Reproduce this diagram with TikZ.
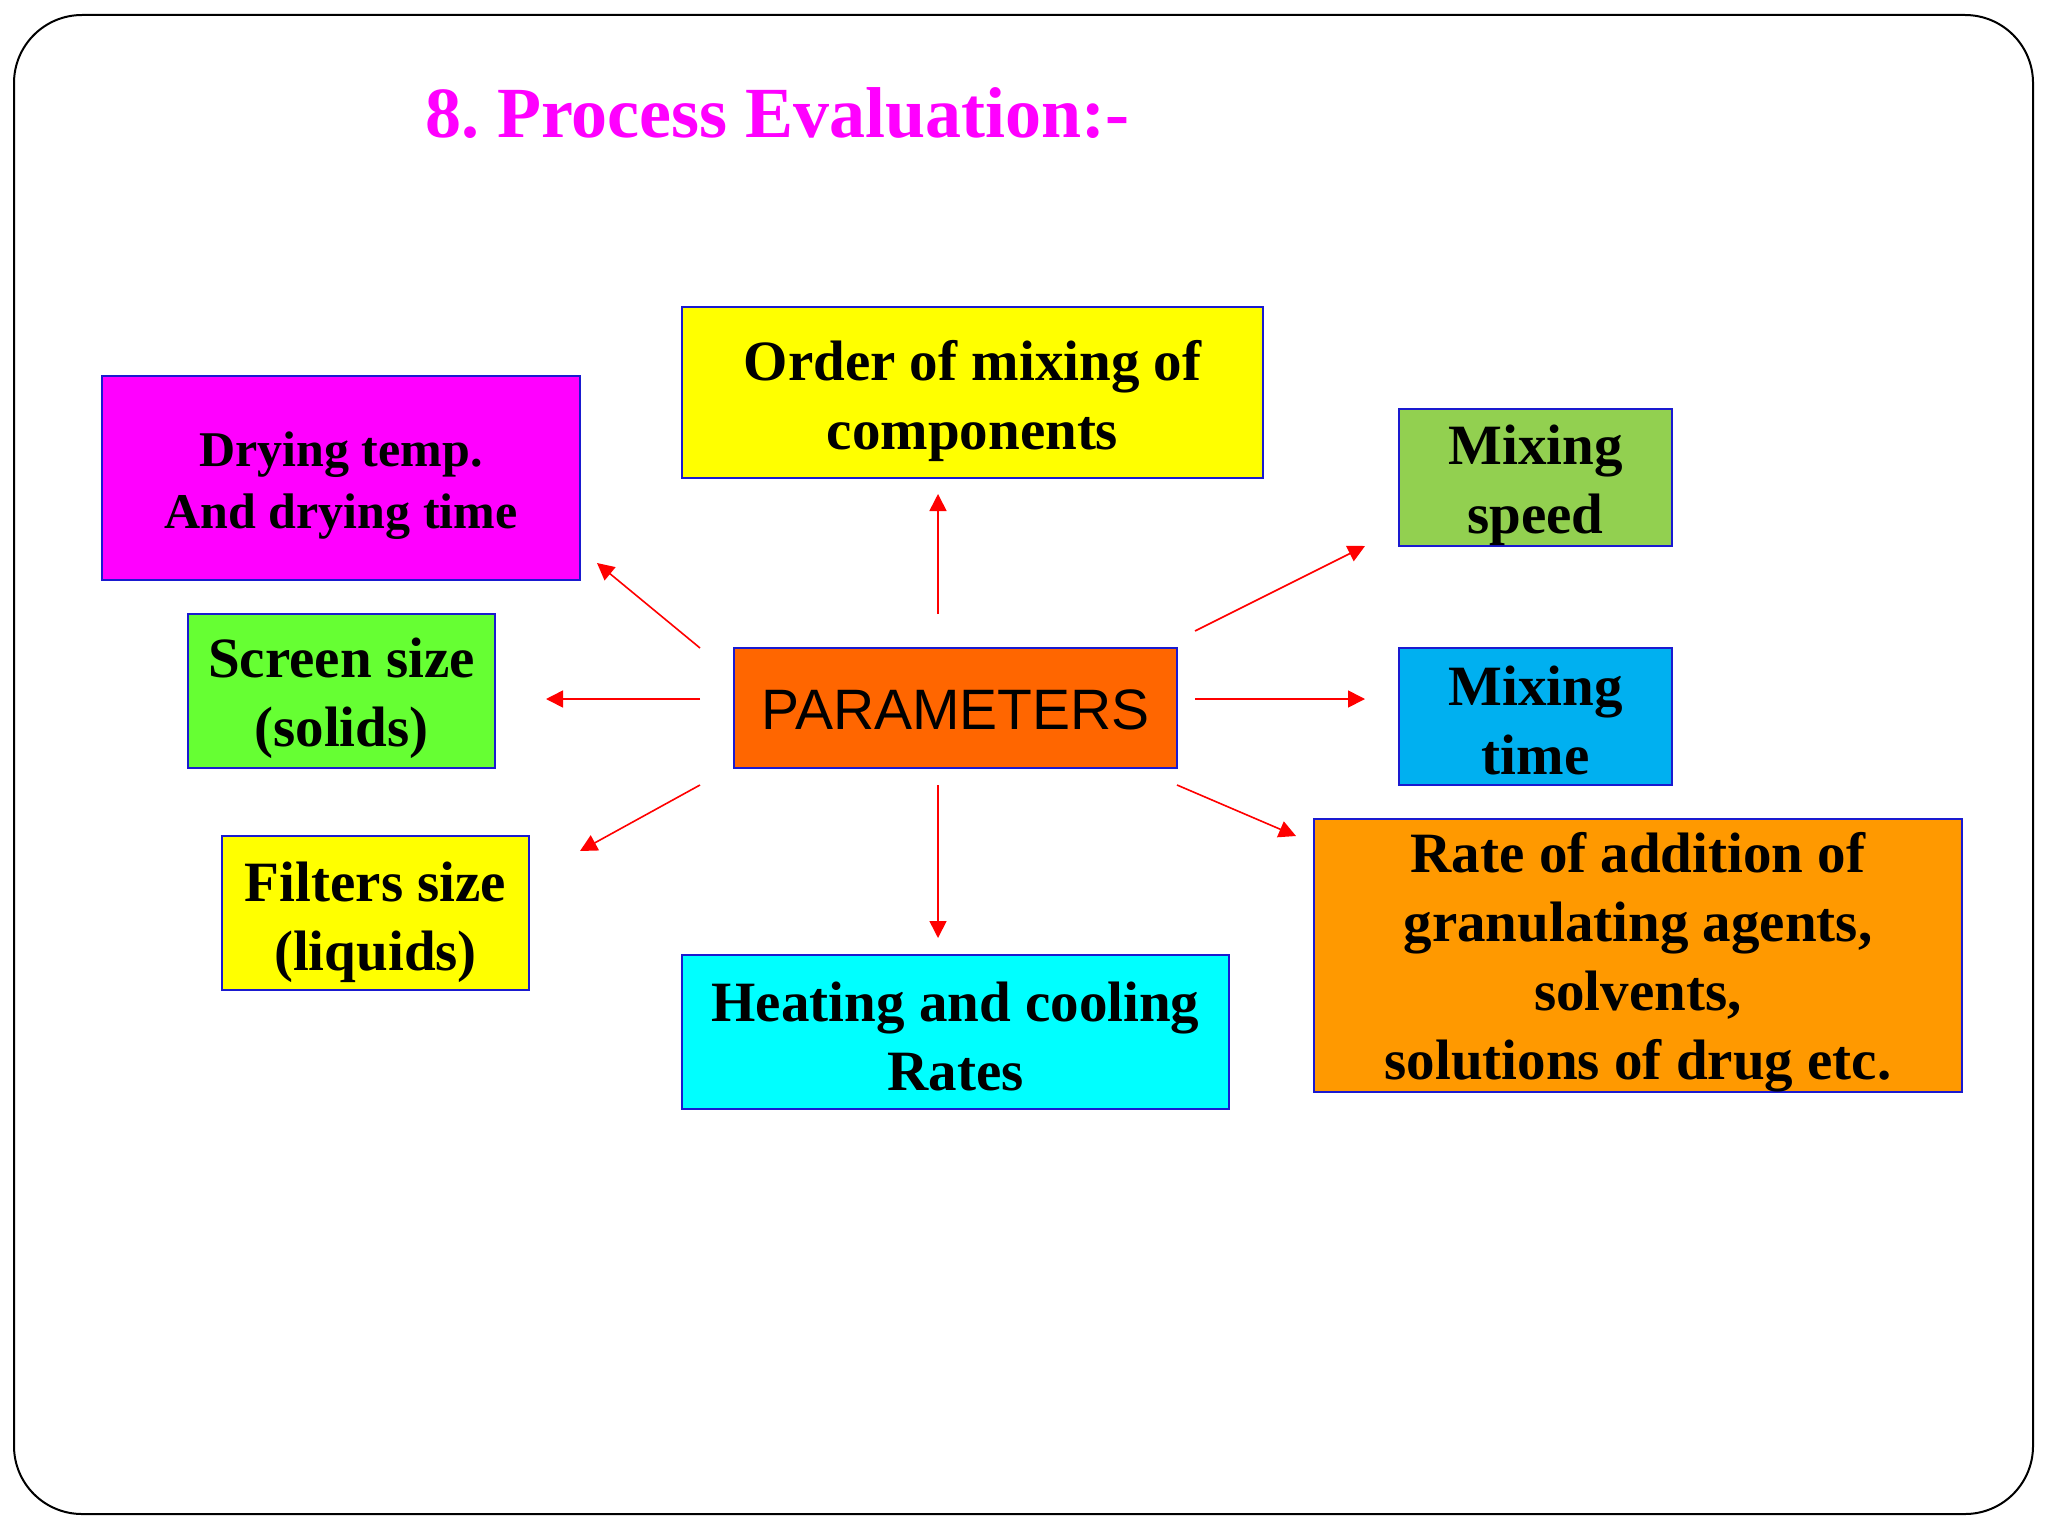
\documentclass[tikz,border=0pt]{standalone}
\usepackage{fontspec}
\setmainfont{Liberation Serif}
\newfontfamily\arialfont{Liberation Sans}
\usetikzlibrary{arrows.meta}
\frenchspacing
\definecolor{cMag}{HTML}{FF00FF}
\definecolor{cYel}{HTML}{FFFF00}
\definecolor{cGrnA}{HTML}{92D050}
\definecolor{cGrnB}{HTML}{66FF33}
\definecolor{cOrA}{HTML}{FF6600}
\definecolor{cBlu}{HTML}{00B0F0}
\definecolor{cCya}{HTML}{00FFFF}
\definecolor{cOrB}{HTML}{FF9900}
\definecolor{cEdge}{HTML}{1A1AD0}
\definecolor{cRed}{HTML}{FF0000}
\tikzset{
  pbox/.style={draw=cEdge, line width=1pt, inner sep=0pt},
  ptext/.style={inner sep=0pt, align=center,
    font=\fontsize{28.5}{34.5}\selectfont\bfseries},
  parr/.style={draw=cRed, line width=0.8pt, -{Triangle[length=8.5pt,width=8.5pt]}},
}
\begin{document}
\frenchspacing
\begin{tikzpicture}[x=0.5pt,y=-0.5pt]
\useasboundingbox (0,0) rectangle (2048,1536);
\draw[line width=1pt, rounded corners=34pt] (14,15) rectangle (2033,1514);
\node[anchor=base west, text=cMag, font=\fontsize{36}{40}\selectfont\bfseries] (title) at (418,137) {8. Process Evaluation:-};

\node[pbox, fill=cMag, minimum width=239pt, minimum height=102pt] (dry) at (341,478) {};
\node[ptext, font=\fontsize{25}{31}\selectfont\bfseries] (dryT) at ([yshift=-4pt]dry.center) {Drying temp.\\And drying time};

\node[pbox, fill=cYel, minimum width=290.5pt, minimum height=85.5pt] (order) at (972.5,392.5) {};
\node[ptext] (orderT) at ([yshift=-4pt]order.center) {Order of mixing of\\components};

\node[pbox, fill=cGrnA, minimum width=136.5pt, minimum height=68.5pt] (mspeed) at (1535.5,477.5) {};
\node[ptext] (mspeedT) at ([yshift=-4pt]mspeed.center) {Mixing\\speed};

\node[pbox, fill=cGrnB, minimum width=153.5pt, minimum height=77pt] (screen) at (341.5,691) {};
\node[ptext] (screenT) at ([yshift=-3.5pt]screen.center) {Screen size\\(solids)};

\node[pbox, fill=cOrA, minimum width=221.5pt, minimum height=60pt] (param) at (955.5,708) {};
\node[ptext, font=\fontsize{28.5}{33.5}\selectfont\arialfont] (paramT) at ([yshift=-1pt]param.center) {PARAMETERS};

\node[pbox, fill=cBlu, minimum width=136.5pt, minimum height=68.5pt] (mtime) at (1535.5,716.5) {};
\node[ptext] (mtimeT) at ([yshift=-2pt]mtime.center) {Mixing\\time};

\node[pbox, fill=cYel, minimum width=153.5pt, minimum height=77pt] (filt) at (375.5,913) {};
\node[ptext] (filtT) at ([yshift=-4.5pt]filt.center) {Filters size\\(liquids)};

\node[pbox, fill=cCya, minimum width=273.5pt, minimum height=77pt] (heat) at (955.5,1032) {};
\node[ptext] (heatT) at ([yshift=-2pt]heat.center) {Heating and cooling\\Rates};

\node[pbox, fill=cOrB, minimum width=324pt, minimum height=136.5pt] (rate) at (1638,955.5) {};
\node[ptext] (rateT) at ([yshift=-3.5pt]rate.center) {Rate of addition of\\granulating agents,\\solvents,\\solutions of drug etc.};

\coordinate (s1) at (938,614); \coordinate (e1) at (938,494);
\coordinate (s2) at (700,648); \coordinate (e2) at (597,563);
\coordinate (s3) at (700,699); \coordinate (e3) at (546,699);
\coordinate (s4) at (700,785); \coordinate (e4) at (580,851);
\coordinate (s5) at (938,785); \coordinate (e5) at (938,938);
\coordinate (s6) at (1177,785); \coordinate (e6) at (1296,836);
\coordinate (s7) at (1195,699); \coordinate (e7) at (1365,699);
\coordinate (s8) at (1195,631); \coordinate (e8) at (1365,546);
\foreach \i in {1,...,8} { \draw[parr] (s\i) -- (e\i); }
\end{tikzpicture}
\end{document}
